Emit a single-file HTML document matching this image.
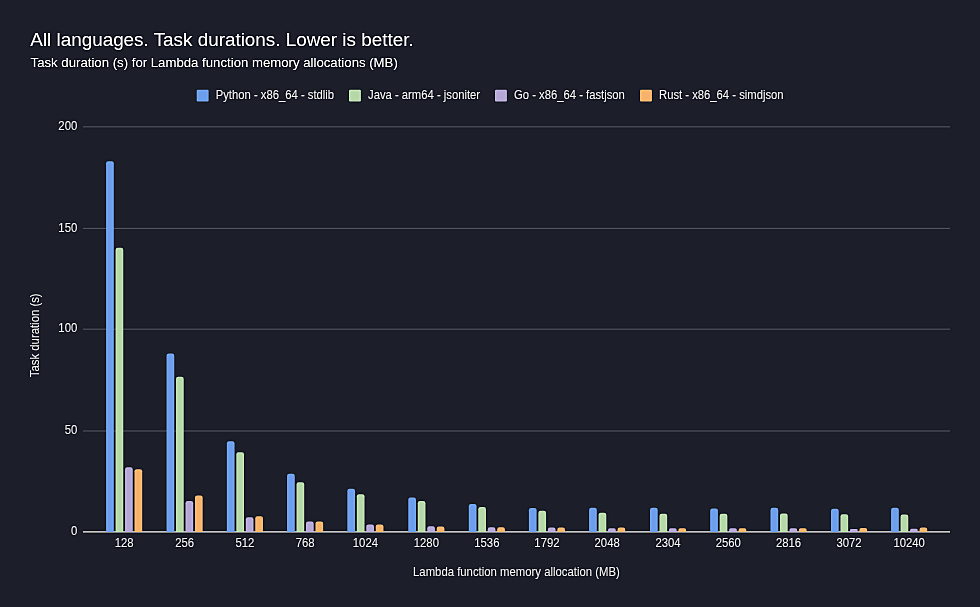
<!DOCTYPE html>
<html lang="en">
<head>
<meta charset="utf-8">
<title>All languages. Task durations. Lower is better.</title>
<style>
html,body{margin:0;padding:0;background:#1c1f2a;}
body{width:980px;height:607px;overflow:hidden;}
svg{display:block;}
text{font-family:"Liberation Sans",Arial,sans-serif;fill:#fff;stroke:#fff;stroke-width:0.22px;}
.t1{font-size:18.86px;stroke:none;}
.t2{font-size:13.19px;stroke:none;}
.lg{font-size:11.27px;fill:#d4d4d4;stroke:#d4d4d4;stroke-width:0.12px;}
.ax{font-size:11.35px;fill:#d4d4d4;stroke:#d4d4d4;stroke-width:0.1px;}
</style>
</head>
<body>
<svg width="980" height="607" viewBox="0 0 980 607">
<defs>
<filter id="usm" x="0" y="0" width="980" height="607" filterUnits="userSpaceOnUse" color-interpolation-filters="sRGB">
<feGaussianBlur in="SourceGraphic" stdDeviation="0.9" result="b"/>
<feComposite in="SourceGraphic" in2="b" operator="arithmetic" k1="0" k2="1.55" k3="-0.55" k4="0"/>
</filter>
</defs>
<g filter="url(#usm)">
<rect x="-20" y="-20" width="1020" height="647" fill="#1c1f2a"/>
<text class="t1" x="30.3" y="45.75">All languages. Task durations. Lower is better.</text>
<text class="t2" x="30.6" y="66.6">Task duration (s) for Lambda function memory allocations (MB)</text>

<rect x="196.7" y="89.75" width="11.9" height="11.8" rx="1.2" fill="#6d9eeb"/>
<text class="lg" transform="translate(215.70 99.40) scale(1 1.06)">Python - x86_64 - stdlib</text>
<rect x="349.0" y="89.75" width="11.9" height="11.8" rx="1.2" fill="#b6d7a8"/>
<text class="lg" transform="translate(368.00 99.40) scale(1 1.06)">Java - arm64 - jsoniter</text>
<rect x="495.0" y="89.75" width="11.9" height="11.8" rx="1.2" fill="#b4a7d6"/>
<text class="lg" transform="translate(514.00 99.40) scale(1 1.06)">Go - x86_64 - fastjson</text>
<rect x="640.0" y="89.75" width="11.9" height="11.8" rx="1.2" fill="#f6b26b"/>
<text class="lg" transform="translate(659.00 99.40) scale(1 1.06)">Rust - x86_64 - simdjson</text>
<rect x="83" y="430.45" width="867" height="1.1" fill="#4a4c56"/>
<rect x="83" y="328.65" width="867" height="1.1" fill="#4a4c56"/>
<rect x="83" y="227.85" width="867" height="1.1" fill="#4a4c56"/>
<rect x="83" y="126.25" width="867" height="1.1" fill="#4a4c56"/>
<text class="ax" transform="translate(77.30 535.10) scale(1 1.06)" text-anchor="end">0</text>
<text class="ax" transform="translate(77.30 434.20) scale(1 1.06)" text-anchor="end">50</text>
<text class="ax" transform="translate(77.30 332.40) scale(1 1.06)" text-anchor="end">100</text>
<text class="ax" transform="translate(77.30 231.60) scale(1 1.06)" text-anchor="end">150</text>
<text class="ax" transform="translate(77.30 130.00) scale(1 1.06)" text-anchor="end">200</text>
<rect x="83" y="531.0" width="867" height="1.7" fill="#a6a6a6"/>
<path d="M106.10 531.9 V163.33 Q106.10 161.13 108.30 161.13 H111.60 Q113.80 161.13 113.80 163.33 V531.9 Z" fill="#6d9eeb"/>
<path d="M115.57 531.9 V249.89 Q115.57 247.69 117.77 247.69 H121.07 Q123.27 247.69 123.27 249.89 V531.9 Z" fill="#b6d7a8"/>
<path d="M125.04 531.9 V469.51 Q125.04 467.31 127.24 467.31 H130.54 Q132.74 467.31 132.74 469.51 V531.9 Z" fill="#b4a7d6"/>
<path d="M134.51 531.9 V471.33 Q134.51 469.13 136.71 469.13 H140.01 Q142.21 469.13 142.21 471.33 V531.9 Z" fill="#f6b26b"/>
<path d="M166.55 531.9 V355.70 Q166.55 353.50 168.75 353.50 H172.05 Q174.25 353.50 174.25 355.70 V531.9 Z" fill="#6d9eeb"/>
<path d="M176.02 531.9 V378.99 Q176.02 376.79 178.22 376.79 H181.52 Q183.72 376.79 183.72 378.99 V531.9 Z" fill="#b6d7a8"/>
<path d="M185.49 531.9 V503.32 Q185.49 501.12 187.69 501.12 H190.99 Q193.19 501.12 193.19 503.32 V531.9 Z" fill="#b4a7d6"/>
<path d="M194.96 531.9 V497.65 Q194.96 495.45 197.16 495.45 H200.46 Q202.66 495.45 202.66 497.65 V531.9 Z" fill="#f6b26b"/>
<path d="M226.85 531.9 V443.38 Q226.85 441.18 229.05 441.18 H232.35 Q234.55 441.18 234.55 443.38 V531.9 Z" fill="#6d9eeb"/>
<path d="M236.32 531.9 V454.52 Q236.32 452.32 238.52 452.32 H241.82 Q244.02 452.32 244.02 454.52 V531.9 Z" fill="#b6d7a8"/>
<path d="M245.79 531.9 V519.52 Q245.79 517.32 247.99 517.32 H251.29 Q253.49 517.32 253.49 519.52 V531.9 Z" fill="#b4a7d6"/>
<path d="M255.26 531.9 V518.51 Q255.26 516.31 257.46 516.31 H260.76 Q262.96 516.31 262.96 518.51 V531.9 Z" fill="#f6b26b"/>
<path d="M287.05 531.9 V475.99 Q287.05 473.79 289.25 473.79 H292.55 Q294.75 473.79 294.75 475.99 V531.9 Z" fill="#6d9eeb"/>
<path d="M296.52 531.9 V484.49 Q296.52 482.29 298.72 482.29 H302.02 Q304.22 482.29 304.22 484.49 V531.9 Z" fill="#b6d7a8"/>
<path d="M305.99 531.9 V523.78 Q305.99 521.58 308.19 521.58 H311.49 Q313.69 521.58 313.69 523.78 V531.9 Z" fill="#b4a7d6"/>
<path d="M315.46 531.9 V523.78 Q315.46 521.58 317.66 521.58 H320.96 Q323.16 521.58 323.16 523.78 V531.9 Z" fill="#f6b26b"/>
<path d="M347.35 531.9 V490.97 Q347.35 488.77 349.55 488.77 H352.85 Q355.05 488.77 355.05 490.97 V531.9 Z" fill="#6d9eeb"/>
<path d="M356.82 531.9 V496.34 Q356.82 494.14 359.02 494.14 H362.32 Q364.52 494.14 364.52 496.34 V531.9 Z" fill="#b6d7a8"/>
<path d="M366.29 531.9 V526.61 Q366.29 524.41 368.49 524.41 H371.79 Q373.99 524.41 373.99 526.61 V531.9 Z" fill="#b4a7d6"/>
<path d="M375.76 531.9 V526.61 Q375.76 524.41 377.96 524.41 H381.26 Q383.46 524.41 383.46 526.61 V531.9 Z" fill="#f6b26b"/>
<path d="M408.30 531.9 V499.68 Q408.30 497.48 410.50 497.48 H413.80 Q416.00 497.48 416.00 499.68 V531.9 Z" fill="#6d9eeb"/>
<path d="M417.77 531.9 V503.22 Q417.77 501.02 419.97 501.02 H423.27 Q425.47 501.02 425.47 503.22 V531.9 Z" fill="#b6d7a8"/>
<path d="M427.24 531.9 V528.43 Q427.24 526.23 429.44 526.23 H432.74 Q434.94 526.23 434.94 528.43 V531.9 Z" fill="#b4a7d6"/>
<path d="M436.71 531.9 V528.64 Q436.71 526.44 438.91 526.44 H442.21 Q444.41 526.44 444.41 528.64 V531.9 Z" fill="#f6b26b"/>
<path d="M468.80 531.9 V506.16 Q468.80 503.96 471.00 503.96 H474.30 Q476.50 503.96 476.50 506.16 V531.9 Z" fill="#6d9eeb"/>
<path d="M478.27 531.9 V509.20 Q478.27 507.00 480.47 507.00 H483.77 Q485.97 507.00 485.97 509.20 V531.9 Z" fill="#b6d7a8"/>
<path d="M487.74 531.9 V529.45 Q487.74 527.25 489.94 527.25 H493.24 Q495.44 527.25 495.44 529.45 V531.9 Z" fill="#b4a7d6"/>
<path d="M497.21 531.9 V529.45 Q497.21 527.25 499.41 527.25 H502.71 Q504.91 527.25 504.91 529.45 V531.9 Z" fill="#f6b26b"/>
<path d="M528.90 531.9 V510.21 Q528.90 508.01 531.10 508.01 H534.40 Q536.60 508.01 536.60 510.21 V531.9 Z" fill="#6d9eeb"/>
<path d="M538.37 531.9 V513.04 Q538.37 510.84 540.57 510.84 H543.87 Q546.07 510.84 546.07 513.04 V531.9 Z" fill="#b6d7a8"/>
<path d="M547.84 531.9 V529.65 Q547.84 527.45 550.04 527.45 H553.34 Q555.54 527.45 555.54 529.65 V531.9 Z" fill="#b4a7d6"/>
<path d="M557.31 531.9 V529.65 Q557.31 527.45 559.51 527.45 H562.81 Q565.01 527.45 565.01 529.65 V531.9 Z" fill="#f6b26b"/>
<path d="M589.10 531.9 V510.01 Q589.10 507.81 591.30 507.81 H594.60 Q596.80 507.81 596.80 510.01 V531.9 Z" fill="#6d9eeb"/>
<path d="M598.57 531.9 V514.87 Q598.57 512.67 600.77 512.67 H604.07 Q606.27 512.67 606.27 514.87 V531.9 Z" fill="#b6d7a8"/>
<path d="M608.04 531.9 V530.08 Q608.04 528.26 609.86 528.26 H613.92 Q615.74 528.26 615.74 530.08 V531.9 Z" fill="#b4a7d6"/>
<path d="M617.51 531.9 V529.65 Q617.51 527.45 619.71 527.45 H623.01 Q625.21 527.45 625.21 529.65 V531.9 Z" fill="#f6b26b"/>
<path d="M650.00 531.9 V510.01 Q650.00 507.81 652.20 507.81 H655.50 Q657.70 507.81 657.70 510.01 V531.9 Z" fill="#6d9eeb"/>
<path d="M659.47 531.9 V515.88 Q659.47 513.68 661.67 513.68 H664.97 Q667.17 513.68 667.17 515.88 V531.9 Z" fill="#b6d7a8"/>
<path d="M668.94 531.9 V530.08 Q668.94 528.26 670.76 528.26 H674.82 Q676.64 528.26 676.64 530.08 V531.9 Z" fill="#b4a7d6"/>
<path d="M678.41 531.9 V530.08 Q678.41 528.26 680.23 528.26 H684.29 Q686.11 528.26 686.11 530.08 V531.9 Z" fill="#f6b26b"/>
<path d="M710.20 531.9 V510.82 Q710.20 508.62 712.40 508.62 H715.70 Q717.90 508.62 717.90 510.82 V531.9 Z" fill="#6d9eeb"/>
<path d="M719.67 531.9 V515.88 Q719.67 513.68 721.87 513.68 H725.17 Q727.37 513.68 727.37 515.88 V531.9 Z" fill="#b6d7a8"/>
<path d="M729.14 531.9 V530.08 Q729.14 528.26 730.96 528.26 H735.02 Q736.84 528.26 736.84 530.08 V531.9 Z" fill="#b4a7d6"/>
<path d="M738.61 531.9 V530.08 Q738.61 528.26 740.43 528.26 H744.49 Q746.31 528.26 746.31 530.08 V531.9 Z" fill="#f6b26b"/>
<path d="M770.50 531.9 V510.01 Q770.50 507.81 772.70 507.81 H776.00 Q778.20 507.81 778.20 510.01 V531.9 Z" fill="#6d9eeb"/>
<path d="M779.97 531.9 V515.68 Q779.97 513.48 782.17 513.48 H785.47 Q787.67 513.48 787.67 515.68 V531.9 Z" fill="#b6d7a8"/>
<path d="M789.44 531.9 V530.08 Q789.44 528.26 791.26 528.26 H795.32 Q797.14 528.26 797.14 530.08 V531.9 Z" fill="#b4a7d6"/>
<path d="M798.91 531.9 V530.08 Q798.91 528.26 800.73 528.26 H804.79 Q806.61 528.26 806.61 530.08 V531.9 Z" fill="#f6b26b"/>
<path d="M831.00 531.9 V511.02 Q831.00 508.82 833.20 508.82 H836.50 Q838.70 508.82 838.70 511.02 V531.9 Z" fill="#6d9eeb"/>
<path d="M840.47 531.9 V516.49 Q840.47 514.29 842.67 514.29 H845.97 Q848.17 514.29 848.17 516.49 V531.9 Z" fill="#b6d7a8"/>
<path d="M849.94 531.9 V530.48 Q849.94 529.07 851.36 529.07 H856.22 Q857.64 529.07 857.64 530.48 V531.9 Z" fill="#b4a7d6"/>
<path d="M859.41 531.9 V529.98 Q859.41 528.06 861.33 528.06 H865.19 Q867.11 528.06 867.11 529.98 V531.9 Z" fill="#f6b26b"/>
<path d="M891.10 531.9 V510.01 Q891.10 507.81 893.30 507.81 H896.60 Q898.80 507.81 898.80 510.01 V531.9 Z" fill="#6d9eeb"/>
<path d="M900.57 531.9 V516.69 Q900.57 514.49 902.77 514.49 H906.07 Q908.27 514.49 908.27 516.69 V531.9 Z" fill="#b6d7a8"/>
<path d="M910.04 531.9 V530.38 Q910.04 528.87 911.56 528.87 H916.22 Q917.74 528.87 917.74 530.38 V531.9 Z" fill="#b4a7d6"/>
<path d="M919.51 531.9 V529.65 Q919.51 527.45 921.71 527.45 H925.01 Q927.21 527.45 927.21 529.65 V531.9 Z" fill="#f6b26b"/>
<text class="ax" transform="translate(124.16 546.90) scale(1 1.06)" text-anchor="middle">128</text>
<text class="ax" transform="translate(184.60 546.90) scale(1 1.06)" text-anchor="middle">256</text>
<text class="ax" transform="translate(244.91 546.90) scale(1 1.06)" text-anchor="middle">512</text>
<text class="ax" transform="translate(305.11 546.90) scale(1 1.06)" text-anchor="middle">768</text>
<text class="ax" transform="translate(365.41 546.90) scale(1 1.06)" text-anchor="middle">1024</text>
<text class="ax" transform="translate(426.36 546.90) scale(1 1.06)" text-anchor="middle">1280</text>
<text class="ax" transform="translate(486.86 546.90) scale(1 1.06)" text-anchor="middle">1536</text>
<text class="ax" transform="translate(546.95 546.90) scale(1 1.06)" text-anchor="middle">1792</text>
<text class="ax" transform="translate(607.15 546.90) scale(1 1.06)" text-anchor="middle">2048</text>
<text class="ax" transform="translate(668.05 546.90) scale(1 1.06)" text-anchor="middle">2304</text>
<text class="ax" transform="translate(728.25 546.90) scale(1 1.06)" text-anchor="middle">2560</text>
<text class="ax" transform="translate(788.55 546.90) scale(1 1.06)" text-anchor="middle">2816</text>
<text class="ax" transform="translate(849.05 546.90) scale(1 1.06)" text-anchor="middle">3072</text>
<text class="ax" transform="translate(909.15 546.90) scale(1 1.06)" text-anchor="middle">10240</text>
<text class="ax" transform="translate(516.40 575.90) scale(1 1.06)" text-anchor="middle">Lambda function memory allocation (MB)</text>
<text class="ax" transform="translate(38.6 335.3) rotate(-90) scale(1 1.06)" text-anchor="middle">Task duration (s)</text>
</g>
</svg>
</body>
</html>
